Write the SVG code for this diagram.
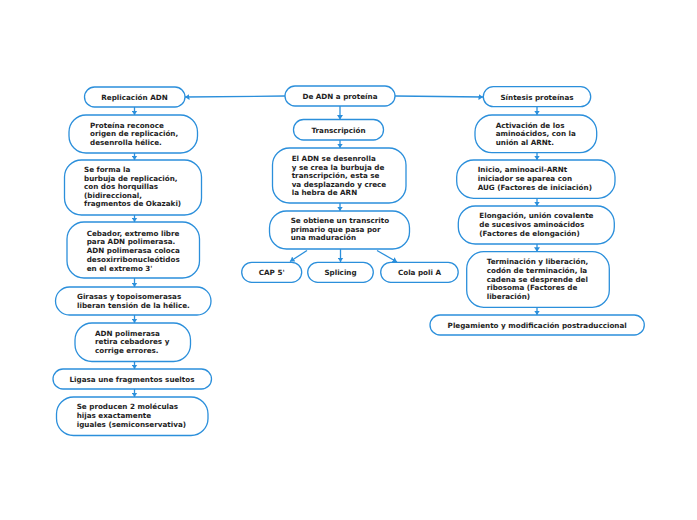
<svg xmlns="http://www.w3.org/2000/svg" width="697" height="520" viewBox="0 0 697 520">
<defs>
<marker id="ah" viewBox="0 0 4.5 6" refX="4.5" refY="3" markerWidth="4.5" markerHeight="6" markerUnits="userSpaceOnUse" orient="auto">
<path d="M0,0 L4.5,3 L0,6 z" fill="#2b8fdb"/>
</marker>
<style>
.n{fill:#fff;stroke:#2b8fdb;stroke-width:1.3}
.t{font-family:"DejaVu Sans","Liberation Sans",sans-serif;font-weight:bold;font-size:7.2px;fill:#1e1e1e}
.c{text-anchor:middle}
.e{fill:none;stroke:#2b8fdb;stroke-width:1.3;marker-end:url(#ah)}
</style>
</defs>
<rect width="697" height="520" fill="#fff"/>
<g id="connectors">
<line class="e" x1="285" y1="96" x2="185" y2="97"/>
<line class="e" x1="395" y1="96" x2="483" y2="97"/>
<line class="e" x1="134.5" y1="107" x2="134.5" y2="115"/>
<line class="e" x1="134.5" y1="153" x2="134.5" y2="160"/>
<line class="e" x1="134.5" y1="215" x2="134.5" y2="222"/>
<line class="e" x1="134.5" y1="278" x2="134.5" y2="287"/>
<line class="e" x1="134.5" y1="315" x2="134.5" y2="323"/>
<line class="e" x1="134.5" y1="361.5" x2="134.5" y2="369"/>
<line class="e" x1="134.5" y1="389" x2="134.5" y2="397"/>
<line class="e" x1="340" y1="106" x2="340" y2="119.5"/>
<line class="e" x1="340" y1="140" x2="340" y2="148"/>
<line class="e" x1="340" y1="203" x2="340" y2="211"/>
<line class="e" x1="307" y1="250.5" x2="290" y2="261.5"/>
<line class="e" x1="340.5" y1="249" x2="340.5" y2="262"/>
<line class="e" x1="377" y1="250.5" x2="397" y2="262"/>
<line class="e" x1="537" y1="106.7" x2="537" y2="115"/>
<line class="e" x1="537" y1="152.7" x2="537" y2="160"/>
<line class="e" x1="537" y1="198.3" x2="537" y2="206"/>
<line class="e" x1="537" y1="244" x2="537" y2="251.7"/>
<line class="e" x1="537" y1="307.3" x2="537" y2="315"/>
</g>
<g id="root"><rect class="n" x="285" y="86" width="110" height="20" rx="10"/><text class="t c" x="340" y="99">De ADN a proteína</text></g>
<g id="replicacion"><rect class="n" x="84.5" y="87" width="100.5" height="20" rx="10"/><text class="t c" x="134.5" y="100">Replicación ADN</text></g>
<g id="r1"><rect class="n" x="69" y="115" width="128.5" height="38" rx="17"/><text class="t" x="90" y="127.7">Proteína reconoce</text><text class="t" x="90" y="136.2">origen de replicación,</text><text class="t" x="90" y="144.7">desenrolla hélice.</text></g>
<g id="r2"><rect class="n" x="64.5" y="160" width="137" height="55" rx="17"/><text class="t" x="84" y="172">Se forma la</text><text class="t" x="84" y="180.6">burbuja de replicación,</text><text class="t" x="84" y="189.2">con dos horquillas</text><text class="t" x="84" y="197.8">(bidireccional,</text><text class="t" x="84" y="206.4">fragmentos de Okazaki)</text></g>
<g id="r3"><rect class="n" x="67" y="222" width="132.5" height="56" rx="17"/><text class="t" x="86.7" y="235.7">Cebador, extremo libre</text><text class="t" x="86.7" y="244.4">para ADN polimerasa.</text><text class="t" x="86.7" y="253.1">ADN polimerasa coloca</text><text class="t" x="86.7" y="261.8">desoxirribonucleótidos</text><text class="t" x="86.7" y="270.5">en el extremo 3'</text></g>
<g id="r4"><rect class="n" x="55.5" y="287" width="155.5" height="28" rx="14"/><text class="t" x="77" y="299.3">Girasas y topoisomerasas</text><text class="t" x="77" y="307.8">liberan tensión de la hélice.</text></g>
<g id="r5"><rect class="n" x="75" y="323" width="115.5" height="38.5" rx="17"/><text class="t" x="95" y="335.7">ADN polimerasa</text><text class="t" x="95" y="344.2">retira cebadores y</text><text class="t" x="95" y="352.7">corrige errores.</text></g>
<g id="r6"><rect class="n" x="53" y="369" width="158.5" height="20" rx="10"/><text class="t c" x="132" y="381.7">Ligasa une fragmentos sueltos</text></g>
<g id="r7"><rect class="n" x="56.5" y="397" width="151.5" height="38.5" rx="17"/><text class="t" x="76.7" y="409.3">Se producen 2 moléculas</text><text class="t" x="76.7" y="418">hijas exactamente</text><text class="t" x="76.7" y="426.7">iguales (semiconservativa)</text></g>
<g id="transcripcion"><rect class="n" x="293.5" y="119.5" width="90" height="20.5" rx="10"/><text class="t c" x="338.5" y="133.3">Transcripción</text></g>
<g id="t1"><rect class="n" x="272.5" y="148" width="133.5" height="55" rx="17"/><text class="t" x="291.7" y="161.3">El ADN se desenrolla</text><text class="t" x="291.7" y="169.8">y se crea la burbuja de</text><text class="t" x="291.7" y="178.3">transcripción, esta se</text><text class="t" x="291.7" y="186.8">va desplazando y crece</text><text class="t" x="291.7" y="195.3">la hebra de ARN</text></g>
<g id="t2"><rect class="n" x="269.5" y="211" width="140" height="38" rx="17"/><text class="t" x="290.7" y="223.3">Se obtiene un transcrito</text><text class="t" x="290.7" y="231.8">primario que pasa por</text><text class="t" x="290.7" y="240.3">una maduración</text></g>
<g id="cap"><rect class="n" x="241.7" y="262.3" width="60" height="20" rx="10"/><text class="t c" x="271.7" y="274.8">CAP 5'</text></g>
<g id="splicing"><rect class="n" x="307.7" y="262.3" width="65.6" height="20" rx="10"/><text class="t c" x="340.5" y="274.8">Splicing</text></g>
<g id="cola"><rect class="n" x="380.7" y="262.3" width="77.5" height="20" rx="10"/><text class="t c" x="419.5" y="274.8">Cola poli A</text></g>
<g id="sintesis"><rect class="n" x="483.3" y="86.7" width="107.4" height="20" rx="10"/><text class="t c" x="537" y="99.5">Síntesis proteínas</text></g>
<g id="s1"><rect class="n" x="475" y="115" width="121.7" height="37.7" rx="17"/><text class="t" x="495.7" y="127.7">Activación de los</text><text class="t" x="495.7" y="136.2">aminoácidos, con la</text><text class="t" x="495.7" y="144.7">unión al ARNt.</text></g>
<g id="s2"><rect class="n" x="456.7" y="160" width="158.3" height="38.3" rx="17"/><text class="t" x="477.7" y="172.3">Inicio, aminoacil-ARNt</text><text class="t" x="477.7" y="181">iniciador se aparea con</text><text class="t" x="477.7" y="189.7">AUG (Factores de iniciación)</text></g>
<g id="s3"><rect class="n" x="458.3" y="206" width="156" height="38" rx="17"/><text class="t" x="479.3" y="218.3">Elongación, unión covalente</text><text class="t" x="479.3" y="226.9">de sucesivos aminoácidos</text><text class="t" x="479.3" y="235.5">(Factores de elongación)</text></g>
<g id="s4"><rect class="n" x="466.7" y="251.7" width="142.6" height="55.6" rx="17"/><text class="t" x="486.7" y="264">Terminación y liberación,</text><text class="t" x="486.7" y="272.8">codón de terminación, la</text><text class="t" x="486.7" y="281.6">cadena se desprende del</text><text class="t" x="486.7" y="290.4">ribosoma (Factores de</text><text class="t" x="486.7" y="299.2">liberación)</text></g>
<g id="s5"><rect class="n" x="430" y="315" width="214.3" height="20" rx="10"/><text class="t c" x="537.2" y="327.7">Plegamiento y modificación postraduccional</text></g>
</svg>
